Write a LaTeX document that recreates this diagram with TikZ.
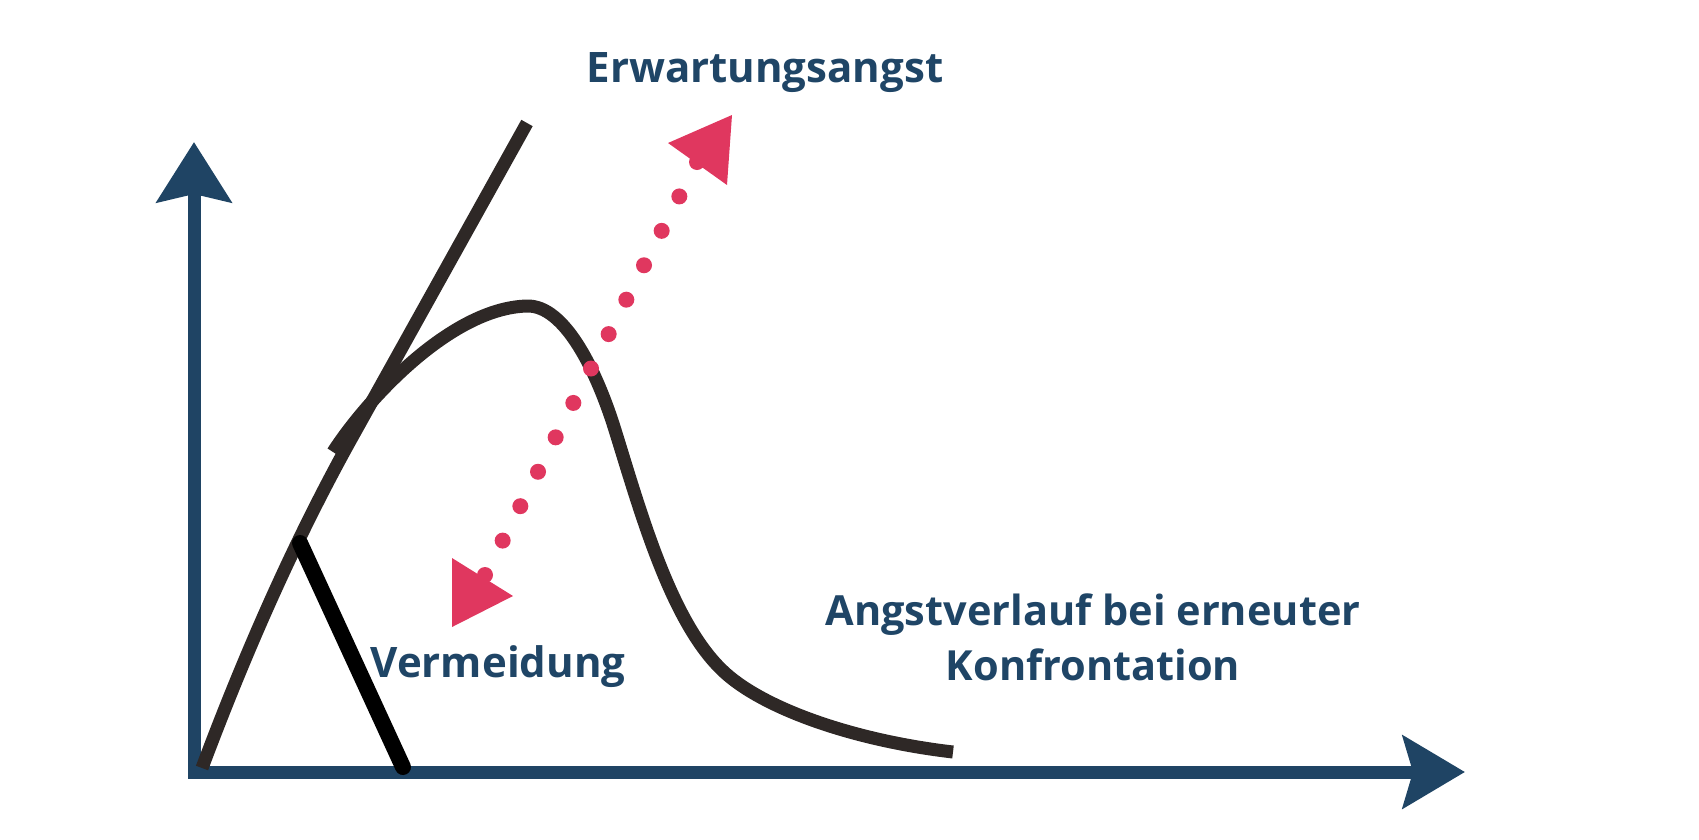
\documentclass[tikz,border=0pt]{standalone}
\usepackage{fontspec}
\setmainfont{Open Sans}
\usetikzlibrary{arrows.meta,calc}
\definecolor{axisblue}{HTML}{1F4464}
\definecolor{textblue}{HTML}{1F4566}
\definecolor{curvebrown}{HTML}{2E2826}
\definecolor{dotred}{HTML}{E0375F}
\tikzset{
  axisline/.style={draw=axisblue, line width=13pt, line join=miter,
    {Stealth[length=60pt,width=74pt,inset=8pt]}-{Stealth[length=62pt,width=72pt,inset=10pt]}},
  curveline/.style={draw=curvebrown, line width=13pt, line cap=butt},
  avoidline/.style={draw=black, line width=16pt, line cap=round},
  lbl/.style={text=textblue, font=\bfseries\fontsize{42}{56}\selectfont, inner sep=0pt, anchor=base, align=center},
  reddot/.style={fill=dotred},
  redhead/.style={fill=dotred}
}
\begin{document}
\begin{tikzpicture}[x=1pt,y=-1pt]
\useasboundingbox (0,0) rectangle (1699,839);
% axes
\coordinate (ytip) at (194,142);
\coordinate (origin) at (194,772);
\coordinate (xtip) at (1465,772);
\draw[axisline] (ytip) -- (origin) -- (xtip);
% rising curve (Erwartungsangst)
\coordinate (c0) at (202,768);
\coordinate (c1) at (355,432);
\coordinate (ctop) at (527,123);
\draw[curveline] (c0) .. controls (250,640) and (300,530) .. (c1) -- (ctop);
% bell curve
\coordinate (b0) at (333,452);
\coordinate (bpeak) at (527,306);
\coordinate (b2) at (615,430);
\coordinate (b3) at (722,670);
\coordinate (bend) at (953,752);
\draw[curveline] (b0) .. controls (365,402) and (450,308) .. (bpeak)
  .. controls (565,305) and (597,372) .. (b2)
  .. controls (640,510) and (670,620) .. (b3)
  .. controls (760,707) and (850,740) .. (bend);
% avoidance line
\coordinate (a0) at (300,543);
\coordinate (a1) at (403,767);
\draw[avoidline] (a0) -- (a1);
% dotted double arrow
\coordinate (vb) at (485,575);
\coordinate (eb) at (697,162);
\foreach \i in {0,...,12} \fill[reddot] ($(vb)!\i/12!(eb)$) circle (8);
\fill[redhead] (732,115) -- (668,143) -- (727,185) -- cycle;
\fill[redhead] (452,627) -- (452,558) -- (513,596) -- cycle;
% labels
\node[lbl] (erw) at (765,82) {Erwartungsangst};
\node[lbl] (verm) at (498,677) {Vermeidung};
\node[lbl, font=\bfseries\fontsize{41.5}{55}\selectfont] (angst) at (1093,680) {Angstverlauf bei erneuter\\Konfrontation};
\end{tikzpicture}
\end{document}
